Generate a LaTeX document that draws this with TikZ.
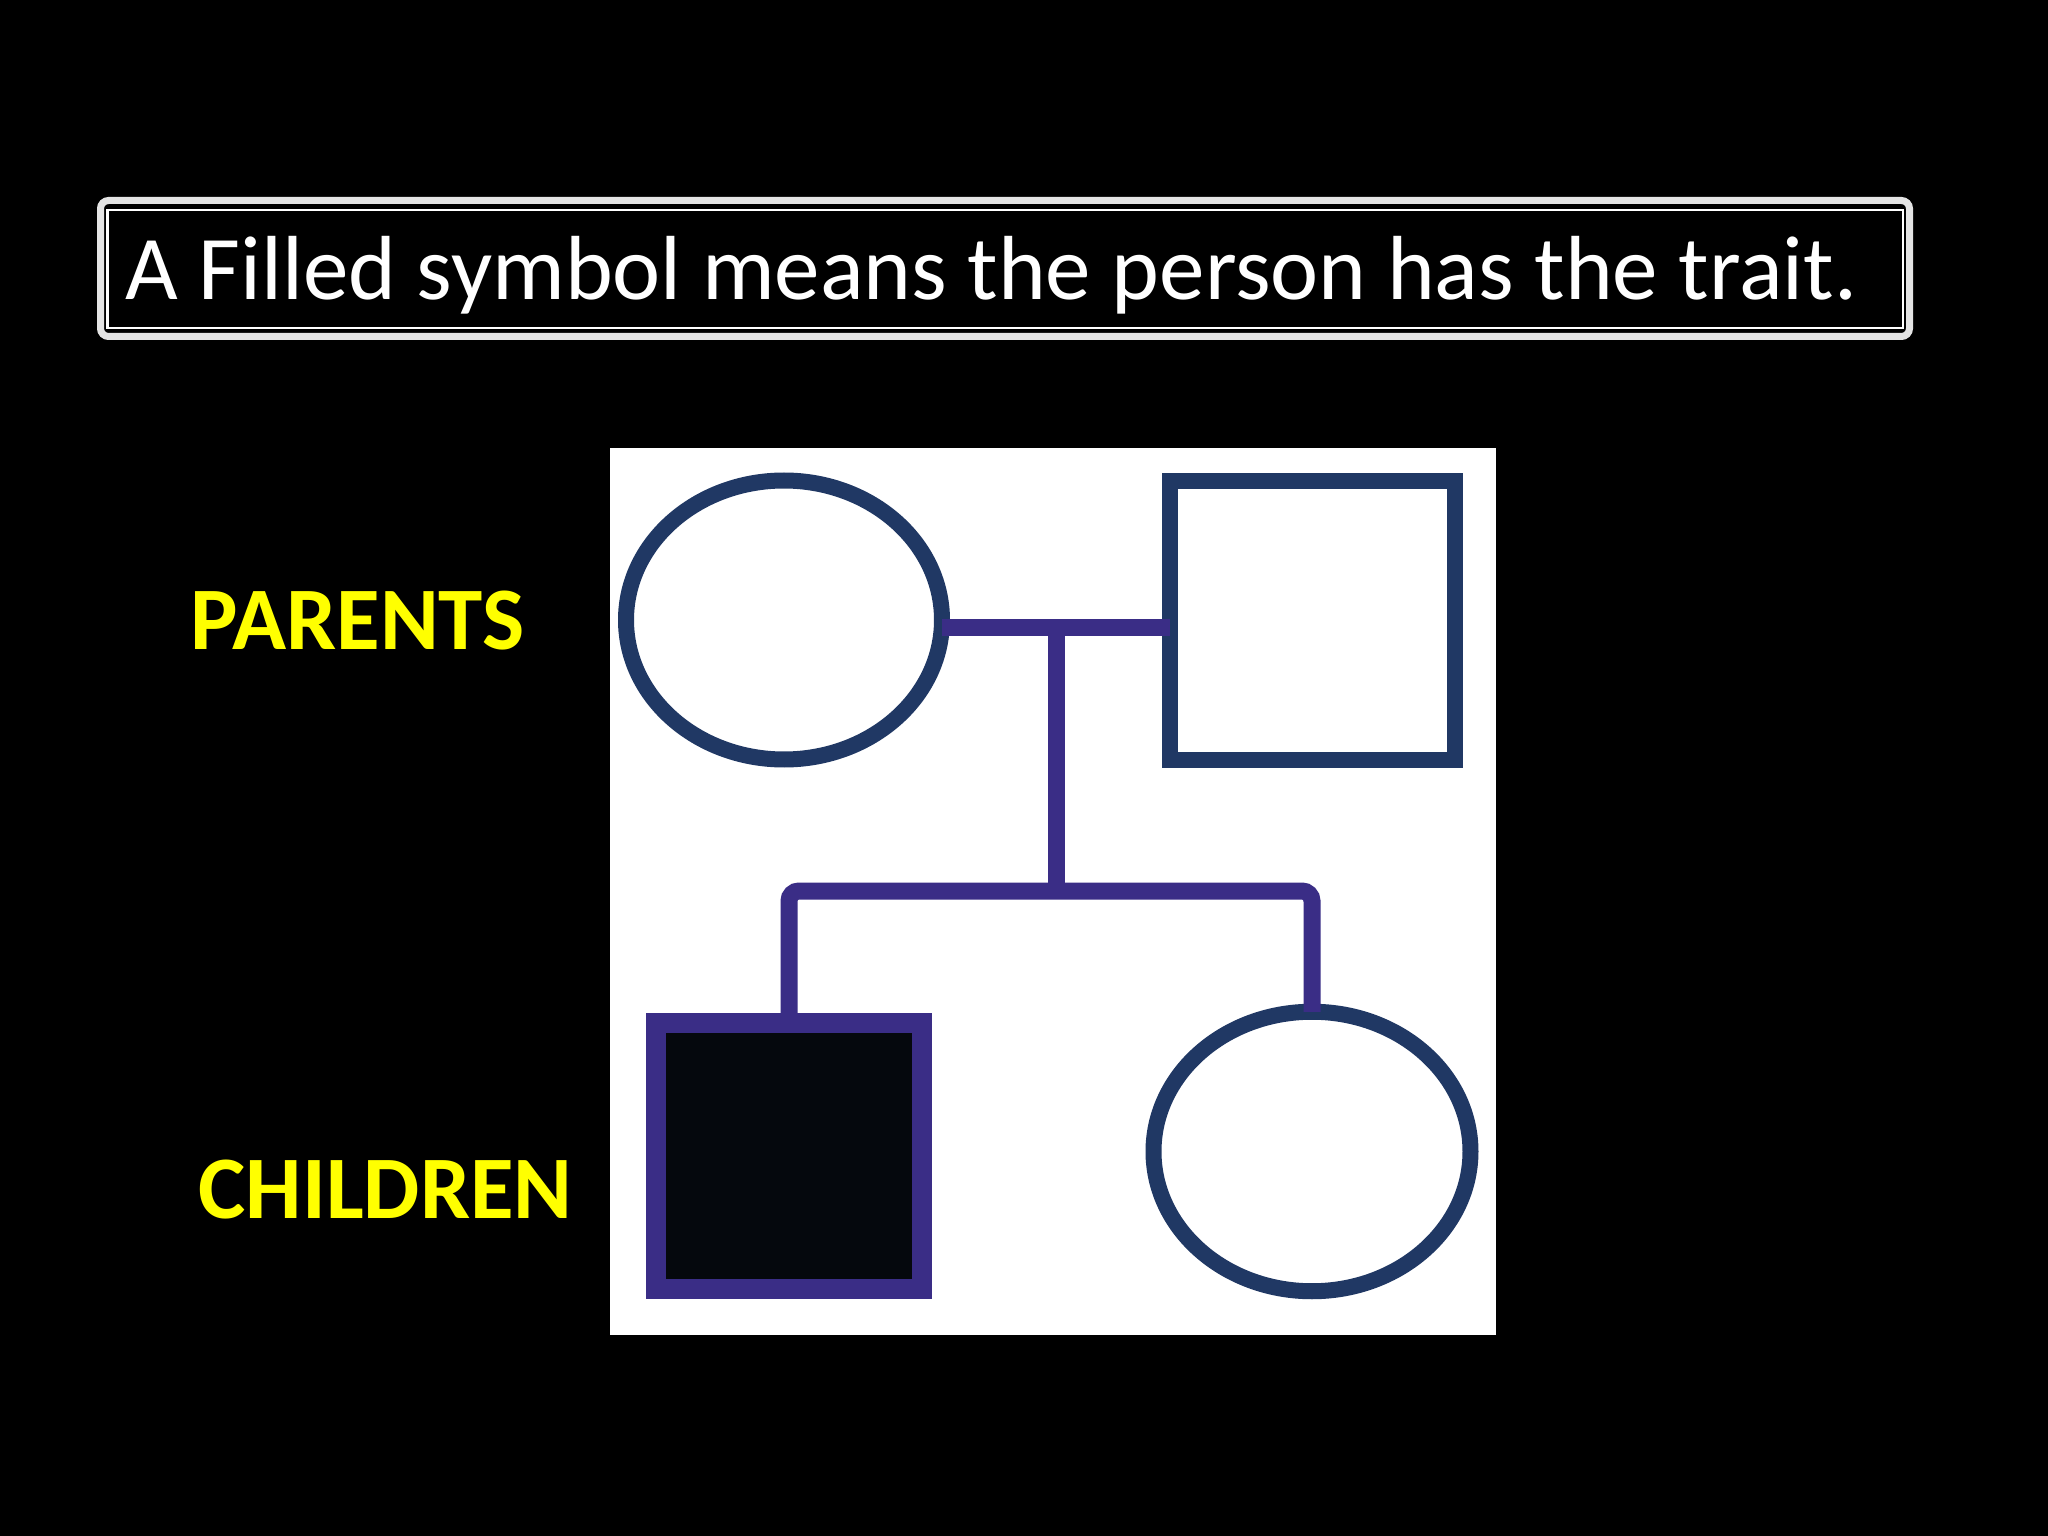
\documentclass[tikz,border=0pt]{standalone}
\usepackage{fontspec}
\setmainfont{Carlito}
\usetikzlibrary{shapes.geometric}

\definecolor{navy}{HTML}{203864}
\definecolor{kinline}{HTML}{3A2D86}
\definecolor{sonfill}{HTML}{05080D}
\definecolor{framegrey}{HTML}{E4E4E4}
\definecolor{labelyellow}{HTML}{FFFF00}

\tikzset{
  female/.style={ellipse, draw=navy, line width=0.16cm, fill=white, inner sep=0pt, outer sep=0pt},
  male/.style={rectangle, draw=navy, line width=0.16cm, fill=white, inner sep=0pt, outer sep=0pt},
  kin/.style={draw=kinline, line width=0.17cm},
  genlabel/.style={text=labelyellow, font=\fontsize{25.4}{30}\selectfont\bfseries, anchor=base west, inner sep=0pt}
}

\begin{document}
\begin{tikzpicture}[y=-1cm]

    % Slide background
    \fill[black] (0,0) rectangle (20.48,15.36);
    \useasboundingbox (0,0) rectangle (20.48,15.36);

    % Title frame
    \draw[framegrey, line width=0.07cm, rounded corners=0.08cm] (1.005,2.005) rectangle (19.095,3.365);
    \draw[white, line width=0.02cm] (1.075,2.10) rectangle (19.025,3.285);
    \node[text=white, anchor=base west, inner sep=0pt, font=\fontsize{25.9}{30}\selectfont] (title) at (1.25,3.00)
      {A Filled symbol means the person has the trait.};

    % Generation labels
    \node[genlabel] (parents) at (1.90,6.50) {PARENTS};
    \node[genlabel] (children) at (1.98,12.18) {CHILDREN};

    % White panel
    \fill[white] (6.10,4.48) rectangle (14.96,13.35);

    % Parents
    \node[female, minimum width=3.16cm, minimum height=2.79cm] (mother) at (7.84,6.20) {};
    \node[male, minimum width=2.85cm, minimum height=2.79cm] (father) at (13.125,6.205) {};

    % Children
    \node[male, draw=kinline, fill=sonfill, line width=0.20cm, minimum width=2.66cm, minimum height=2.66cm] (son) at (7.89,11.56) {};
    \node[female, minimum width=3.17cm, minimum height=2.795cm] (daughter) at (13.12,11.515) {};

    % Marriage and descent lines
    \coordinate (couple) at (10.56,6.28);
    \coordinate (sibs) at (10.56,8.91);
    \draw[kin] (mother.east |- couple) -- (father.west |- couple);
    \draw[kin] (couple) -- (sibs);
    \draw[kin, rounded corners=0.1cm] (son.north) |- (sibs) -| (daughter.north);

\end{tikzpicture}
\end{document}
